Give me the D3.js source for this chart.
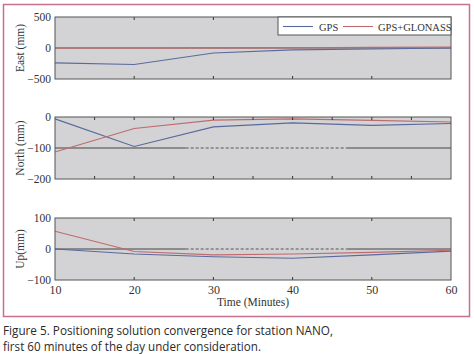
<!DOCTYPE html>
<html><head><meta charset="utf-8">
<script src="https://cdn.jsdelivr.net/npm/d3@7"></script>
<style>body{margin:0;background:#fff}svg{display:block}</style>
</head><body>
<script>
const minutes = [10, 20, 30, 40, 50, 60];
const eastGPS = [-240, -265, -80, -30, -15, 0];
const eastGG = [0, 0, 2, 5, 10, 15];
const northGPS = [-6, -95, -32, -19, -27, -21];
const northGG = [-113, -37, -10, -6, -11, -16];
const upGPS = [0, -16, -25, -30, -19, -7];
const upGG = [57, -8, -19, -16, -11, -4];
const xTicks = [10, 20, 30, 40, 50, 60];
const seriesNames = ["GPS", "GPS+GLONASS"];
const caption = ["Figure 5. Positioning solution convergence for station NANO,",
                 "first 60 minutes of the day under consideration."];

const W = 474, H = 354;
const svg = d3.select("body").append("svg").attr("width", W).attr("height", H);
const blue = "#5a6a9c", red = "#c06a6e", bg = "#d3d3d5", frame = "#c9718c";
const serif = "'Liberation Serif', 'DejaVu Serif', serif";

svg.append("rect").attr("x", 3.5).attr("y", 4.5).attr("width", 466).attr("height", 312)
  .attr("fill", "none").attr("stroke", frame).attr("stroke-width", 1.5);

const x = d3.scaleLinear().domain([10, 60]).range([55, 451]);

const panels = [
  {label: "East (mm)", top: 17, bot: 79, dom: [-500, 500], ticks: [-500, 0, 500], gps: eastGPS, gg: eastGG, xt: xTicks, ref: 0, dashed: false, xlabels: false},
  {label: "North (mm)", top: 117, bot: 179, dom: [-200, 0], ticks: [-200, -100, 0], gps: northGPS, gg: northGG, xt: d3.range(15, 60, 5), ref: -100, dashed: true, xlabels: false},
  {label: "Up(mm)", top: 218, bot: 280, dom: [-100, 100], ticks: [-100, 0, 100], gps: upGPS, gg: upGG, xt: xTicks, ref: 0, dashed: true, xlabels: true}
];

panels.forEach((p, i) => {
  const y = d3.scaleLinear().domain(p.dom).range([p.bot, p.top]);
  const g = svg.append("g");
  g.append("rect").attr("x", x(10)).attr("y", p.top).attr("width", x(60) - x(10)).attr("height", p.bot - p.top).attr("fill", bg);
  // reference line
  if (p.dashed) {
    g.append("line").attr("x1", x(10)).attr("x2", x(26.5)).attr("y1", y(p.ref)).attr("y2", y(p.ref)).attr("stroke", "#444").attr("stroke-width", 1);
    g.append("line").attr("x1", x(26.5)).attr("x2", x(47)).attr("y1", y(p.ref)).attr("y2", y(p.ref)).attr("stroke", "#555").attr("stroke-width", 1).attr("stroke-dasharray", "3,2");
    g.append("line").attr("x1", x(47)).attr("x2", x(60)).attr("y1", y(p.ref)).attr("y2", y(p.ref)).attr("stroke", "#444").attr("stroke-width", 1);
  } else {
    g.append("line").attr("x1", x(10)).attr("x2", x(60)).attr("y1", y(p.ref)).attr("y2", y(p.ref)).attr("stroke", "#6b4a4c").attr("stroke-width", 1);
  }
  const line = d3.line().x((d, j) => x(minutes[j])).y(d => y(d));
  g.append("path").datum(p.gps).attr("d", line).attr("fill", "none").attr("stroke", blue).attr("stroke-width", 1.1);
  g.append("path").datum(p.gg).attr("d", line).attr("fill", "none").attr("stroke", red).attr("stroke-width", 1.1);
  // ticks inward
  const inner = p.xt.filter(t => t > 10 && t < 60);
  inner.forEach(t => {
    g.append("line").attr("x1", x(t)).attr("x2", x(t)).attr("y1", p.top).attr("y2", p.top + 3).attr("stroke", "#333");
    g.append("line").attr("x1", x(t)).attr("x2", x(t)).attr("y1", p.bot).attr("y2", p.bot - 3).attr("stroke", "#333");
  });
  g.append("rect").attr("x", x(10)).attr("y", p.top).attr("width", x(60) - x(10)).attr("height", p.bot - p.top)
    .attr("fill", "none").attr("stroke", "#555").attr("stroke-width", 1);
  // y axis labels
  const ya = d3.axisLeft(y).tickValues(p.ticks).tickSize(0).tickPadding(4).tickFormat(d3.format("d"));
  const ag = g.append("g").attr("transform", `translate(${x(10)},0)`).call(ya);
  ag.select(".domain").remove();
  ag.selectAll("text").attr("font-family", serif).attr("font-size", 11.5).attr("fill", "#333");
  g.append("text").attr("transform", `translate(24,${(p.top + p.bot) / 2}) rotate(-90)`)
    .attr("text-anchor", "middle").attr("font-family", serif).attr("font-size", 11.5).attr("fill", "#333").text(p.label);
  if (p.xlabels) {
    const xa = d3.axisBottom(x).tickValues(xTicks).tickSize(0).tickPadding(5).tickFormat(d3.format("d"));
    const xg = g.append("g").attr("transform", `translate(0,${p.bot})`).call(xa);
    xg.select(".domain").remove();
    xg.selectAll("text").attr("font-family", serif).attr("font-size", 12).attr("fill", "#333");
    g.append("text").attr("x", 253).attr("y", 306).attr("text-anchor", "middle")
      .attr("font-family", serif).attr("font-size", 11.5).attr("fill", "#333").text("Time (Minutes)");
  }
});

// legend
const lg = svg.append("g");
lg.append("rect").attr("x", 278).attr("y", 17).attr("width", 173).attr("height", 18).attr("fill", "#fff").attr("stroke", "#555");
[[283, 313, 319, blue], [343, 373, 378, red]].forEach((d, i) => {
  lg.append("line").attr("x1", d[0]).attr("x2", d[1]).attr("y1", 26.5).attr("y2", 26.5).attr("stroke", d[3]).attr("stroke-width", 1.1);
  lg.append("text").attr("x", d[2]).attr("y", 30.5).attr("font-family", serif).attr("font-size", 10.5).attr("fill", "#333").text(seriesNames[i]);
});

// caption
caption.forEach((c, i) => {
  svg.append("text").attr("x", 3).attr("y", 335 + i * 16).attr("font-family", "'Open Sans', 'Noto Sans', sans-serif")
    .attr("font-size", 12).attr("fill", "#2a2a2a").attr("textLength", i === 0 ? 330 : 258).attr("lengthAdjust", "spacingAndGlyphs").text(c);
});
</script>
</body></html>
